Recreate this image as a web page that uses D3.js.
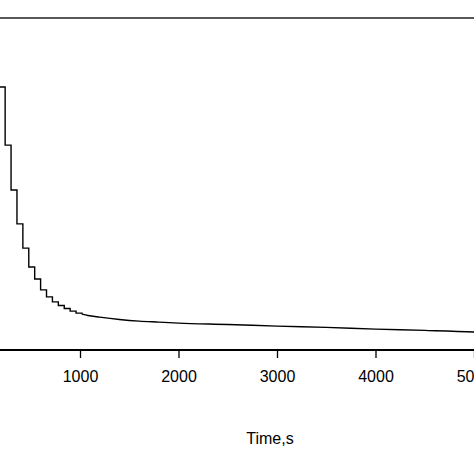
<!DOCTYPE html>
<html><head><meta charset="utf-8">
<script src="https://cdn.jsdelivr.net/npm/d3@7"></script>
<style>body{margin:0;background:#fff}</style>
</head><body>
<svg width="474" height="474"></svg>
<script>
// step part of the curve (arbitrary y units, no y axis shown)
const stepTimes  = [120, 240, 300, 360, 420, 480, 540, 600, 660, 720, 780, 840, 900, 960, 1020];
const stepValues = [79.2, 61.7, 48.2, 38.0, 30.7, 25.0, 21.4, 18.1, 16.0, 14.5, 13.4, 12.5, 11.7, 11.1, 10.8];
// smooth tail of the curve
const tailTimes  = [1020, 1080, 1200, 1400, 1600, 1800, 2000, 2500, 3000, 3500, 4000, 4500, 5000, 5200];
const tailValues = [10.8, 10.4, 9.9, 9.2, 8.7, 8.4, 8.1, 7.7, 7.2, 6.8, 6.3, 5.9, 5.4, 5.1];
const xTicks = [1000, 2000, 3000, 4000, 5000];

const svg = d3.select("svg");
const x = d3.scaleLinear().domain([0, 1000]).range([-18.5, 80]);
const y = d3.scaleLinear().domain([0, 100]).range([350, 18]);

const steps = stepTimes.map((t, i) => ({ t: t, v: stepValues[i] }));
const tail  = tailTimes.map((t, i) => ({ t: t, v: tailValues[i] }));

svg.append("rect")
    .attr("x", -1).attr("y", 18)
    .attr("width", 480).attr("height", 332)
    .attr("fill", "none").attr("stroke", "#000").attr("stroke-width", 1.3);

svg.append("path")
    .datum(steps)
    .attr("fill", "none").attr("stroke", "#000").attr("stroke-width", 1.4)
    .attr("d", d3.line().curve(d3.curveStepAfter).x(d => x(d.t)).y(d => y(d.v)));

svg.append("path")
    .datum(tail)
    .attr("fill", "none").attr("stroke", "#000").attr("stroke-width", 1.4)
    .attr("d", d3.line().curve(d3.curveMonotoneX).x(d => x(d.t)).y(d => y(d.v)));

const axis = svg.append("g")
    .attr("transform", "translate(0,350)")
    .call(d3.axisBottom(x).tickValues(xTicks).tickSize(8).tickPadding(13).tickFormat(d3.format("d")));
axis.select(".domain").remove();
axis.selectAll("line").attr("stroke-width", 1.3);
axis.selectAll("text")
    .attr("font-family", "Liberation Sans, Arial, sans-serif")
    .attr("font-size", 16)
    .attr("fill", "#000");

svg.append("line")
    .attr("x1", -1).attr("x2", 480).attr("y1", 350).attr("y2", 350)
    .attr("stroke", "#000").attr("stroke-width", 2);

svg.append("text")
    .attr("x", 270).attr("y", 444)
    .attr("text-anchor", "middle")
    .attr("font-family", "Liberation Sans, Arial, sans-serif")
    .attr("font-size", 16)
    .text("Time,s");
</script>
</body></html>
